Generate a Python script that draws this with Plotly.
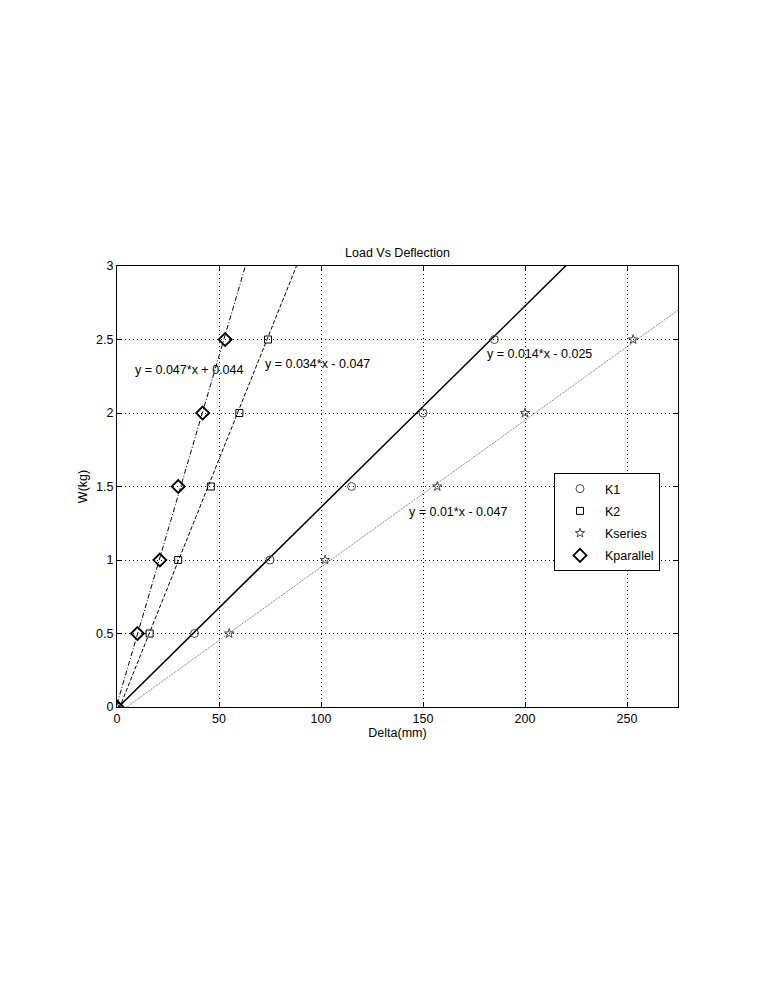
import plotly.graph_objects as go

# ---- data ----
load_kg = [0, 0.5, 1.0, 1.5, 2.0, 2.5]
k1_delta = [0, 38, 75, 115, 150, 185]
k2_delta = [0, 16, 30, 46, 60, 74]
kseries_delta = [0, 55, 102, 157, 200, 253]
kparallel_delta = [0, 10, 21, 30, 42, 53]

# fitted lines (end points)
k1_fit_x = [0, 225]
k1_fit_y = [-0.01, 3.07]
k2_fit_x = [0, 90]
k2_fit_y = [-0.047, 3.07]
kseries_fit_x = [0, 275]
kseries_fit_y = [-0.047, 2.70]
kparallel_fit_x = [0, 64]
kparallel_fit_y = [0.02, 3.05]

fit_labels = ["y = 0.047*x + 0.044", "y = 0.034*x - 0.047",
              "y = 0.014*x - 0.025", "y = 0.01*x - 0.047"]
fit_label_x = [35.4, 98.2, 207.2, 167.0]
fit_label_y = [2.29, 2.33, 2.40, 1.325]

x_ticks = [0, 50, 100, 150, 200, 250]
y_ticks = [0, 0.5, 1, 1.5, 2, 2.5, 3]

FONT = "Liberation Sans, Arial, sans-serif"
FS = 12.5
fig = go.Figure()

# fit lines
fig.add_trace(go.Scatter(x=k1_fit_x, y=k1_fit_y, mode="lines",
                         line=dict(color="black", width=1.5), showlegend=False, hoverinfo="skip"))
fig.add_trace(go.Scatter(x=k2_fit_x, y=k2_fit_y, mode="lines",
                         line=dict(color="black", width=1, dash="4px,2px"), showlegend=False, hoverinfo="skip"))
fig.add_trace(go.Scatter(x=kseries_fit_x, y=kseries_fit_y, mode="lines",
                         line=dict(color="#666666", width=1, dash="1px,1px"), showlegend=False, hoverinfo="skip"))
fig.add_trace(go.Scatter(x=kparallel_fit_x, y=kparallel_fit_y, mode="lines",
                         line=dict(color="black", width=1, dash="5px,2px,1px,2px"), showlegend=False, hoverinfo="skip"))

# data markers
fig.add_trace(go.Scatter(x=k1_delta, y=load_kg, mode="markers", name="K1", legendgroup="a",
                         marker=dict(symbol="circle-open", size=8, color="#444444", line=dict(width=1))))
fig.add_trace(go.Scatter(x=k2_delta, y=load_kg, mode="markers", name="K2", legendgroup="b",
                         marker=dict(symbol="square-open", size=7, color="black", line=dict(width=1))))
fig.add_trace(go.Scatter(x=kseries_delta, y=load_kg, mode="markers", name="Kseries", legendgroup="c",
                         marker=dict(symbol="star-open", size=7, color="#444444", line=dict(width=1))))
fig.add_trace(go.Scatter(x=kparallel_delta, y=load_kg, mode="markers", name="Kparallel", legendgroup="d",
                         marker=dict(symbol="diamond-open", size=10, color="black", line=dict(width=1.8))))

for t, x, y in zip(fit_labels, fit_label_x, fit_label_y):
    fig.add_annotation(x=x, y=y, text=t, showarrow=False, xanchor="center", yanchor="middle",
                       font=dict(family=FONT, size=FS, color="black"))

axis_common = dict(showline=True, linecolor="black", linewidth=1, mirror="ticks",
                   ticks="inside", ticklen=5, tickcolor="black",
                   showgrid=True, gridcolor="black", gridwidth=1, griddash="1px,3px",
                   zeroline=False, tickfont=dict(family=FONT, size=FS, color="black"))

fig.update_layout(
    width=768, height=994,
    paper_bgcolor="white", plot_bgcolor="white",
    margin=dict(l=109, r=98, t=258, b=295),
    title=dict(text="Load Vs Deflection", x=0.5, xref="paper", xanchor="center",
               y=1 - 244.7 / 994, yanchor="middle", font=dict(family=FONT, size=FS, color="black")),
    xaxis=dict(range=[0, 275], tickvals=x_ticks, ticktext=[str(v) for v in x_ticks],
               title=dict(text="Delta(mm)", font=dict(family=FONT, size=FS, color="black"), standoff=2),
               **axis_common),
    yaxis=dict(range=[0, 3], tickvals=y_ticks, ticktext=[f"{v:g}" for v in y_ticks],
               title=dict(text="W(kg)", font=dict(family=FONT, size=FS, color="black"), standoff=5),
               **axis_common),
    legend=dict(x=(554 - 117) / 561, y=1 - (473 - 266) / 441, xanchor="left", yanchor="top",
                bordercolor="black", borderwidth=1, bgcolor="white",
                font=dict(family=FONT, size=FS, color="black"), itemwidth=40,
                tracegroupgap=3),
    showlegend=True,
)

fig.write_html("out.html")
